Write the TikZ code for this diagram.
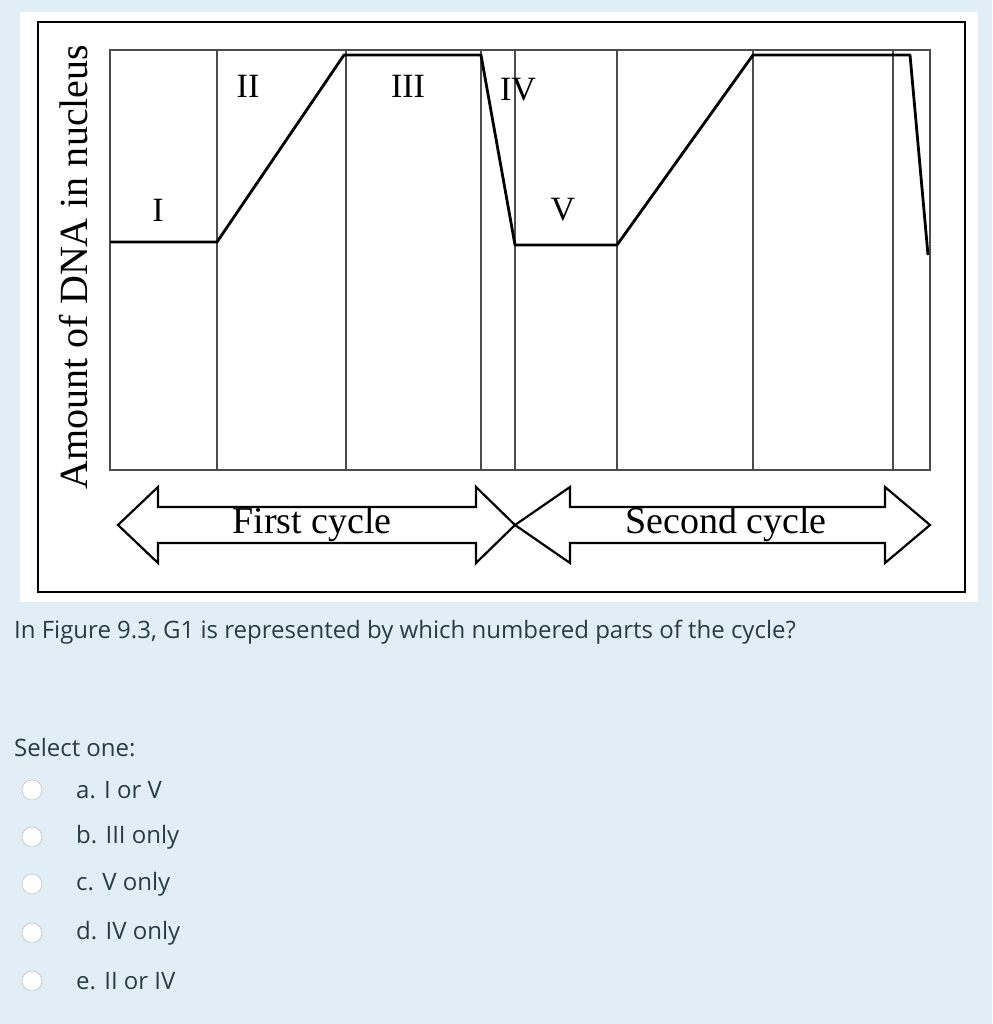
\documentclass[tikz,border=0pt]{standalone}
\usepackage{fontspec}
\setmainfont{Liberation Serif}
\newfontfamily\qfont{Open Sans}
\definecolor{bgc}{RGB}{225,238,246}
\definecolor{qtext}{RGB}{40,60,72}
\begin{document}
\begin{tikzpicture}[x=1pt,y=-1pt,
  grid/.style={draw=black!70,line width=1.8pt},
  curve/.style={draw=black,line width=2.8pt},
  lab/.style={font=\fontsize{34}{34}\selectfont},
  dblarrow/.style={draw=black,line width=2.2pt,fill=white},
  q/.style={font=\qfont\fontsize{24}{28}\selectfont,text=qtext,anchor=west,inner sep=0},
  radio/.style={circle,draw=black!30,fill=white,minimum size=20pt,inner sep=0}]
\fill[bgc] (0,0) rectangle (992,1024);
\useasboundingbox (0,0) rectangle (992,1024);
\fill[white] (20,12) rectangle (978,602);
\draw[line width=2.2pt] (38,22) rectangle (965,592);
\draw[grid] (110,50) rectangle (930,470);
\foreach \x in {217,346,481,515,617,753,893}{\draw[grid] (\x,50) -- (\x,470);}
\draw[curve,line join=round] (110,242) -- (217,242) -- (344,55) -- (481,55) -- (515,245) -- (617,245) -- (753,55) -- (910,55) -- (928,255);
\node[lab] (l2) at (248,86) {II};
\node[lab] (l3) at (408,86) {III};
\node[lab] (l4) at (518,90) {IV};
\node[lab] (l1) at (158,210) {I};
\node[lab] (l5) at (563,210) {V};
\node[lab,font=\fontsize{40}{40}\selectfont,rotate=90] (yl) at (74,267) {Amount of DNA in nucleus};
\draw[dblarrow] (118,525) -- (158,487) -- (158,507) -- (476,507) -- (476,487) -- (515,525) -- (476,563) -- (476,543) -- (158,543) -- (158,563) -- cycle;
\draw[dblarrow] (515,525) -- (570,487) -- (570,507) -- (885,507) -- (885,487) -- (930,525) -- (885,563) -- (885,543) -- (570,543) -- (570,563) -- cycle;
\node[lab,font=\fontsize{38}{38}\selectfont] (c1) at (312,524) {First cycle};
\node[lab,font=\fontsize{38}{38}\selectfont] (c2) at (726,524) {Second cycle};
\node[q] (qq) at (14,632) {In Figure 9.3, G1 is represented by which numbered parts of the cycle?};
\node[q] (sel) at (14,748) {Select one:};
\foreach \y/\t/\n in {790/a. I or V/a,837/b. III only/b,884/c. V only/c,933/d. IV only/d,981/e. II or IV/e}{
  \node[radio] (r\n) at (32,\y) {};
  \node[q] (o\n) at (76,\y) {\t};
}
\end{tikzpicture}
\end{document}
